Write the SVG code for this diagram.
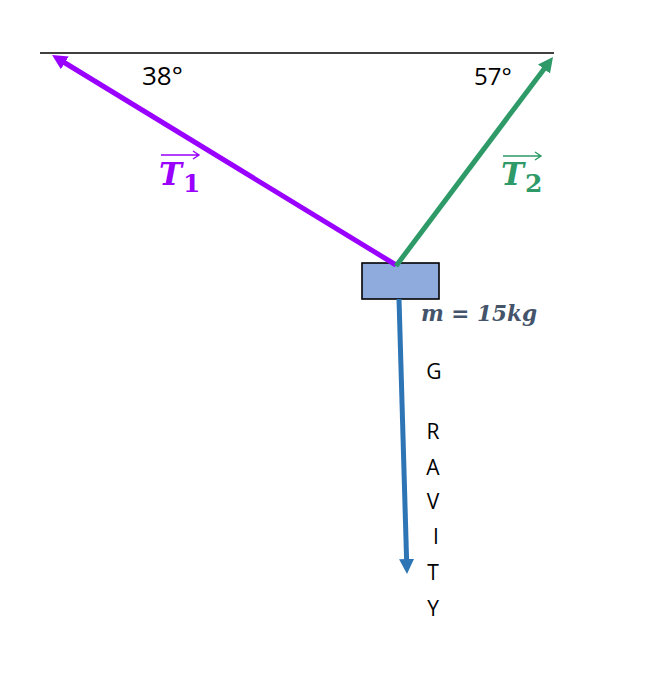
<svg xmlns="http://www.w3.org/2000/svg" width="660" height="684" viewBox="0 0 660 684">
<style>
.lbl{font-family:"Open Sans","Liberation Sans",sans-serif;fill:#000}
.vec{font-family:"DejaVu Serif","Liberation Serif",serif;font-weight:bold;font-style:italic}
.sub{font-family:"DejaVu Serif","Liberation Serif",serif;font-weight:bold;font-style:normal}
.arw{stroke-width:5;fill:none}
</style>
<defs>
<marker id="hP" viewBox="0 0 10 10" refX="3" refY="5" markerWidth="3" markerHeight="3" orient="auto"><path d="M0,0 L10,5 L0,10 z" fill="#9900ff"/></marker>
<marker id="hG" viewBox="0 0 10 10" refX="3" refY="5" markerWidth="3" markerHeight="3" orient="auto"><path d="M0,0 L10,5 L0,10 z" fill="#2e9a68"/></marker>
<marker id="hB" viewBox="0 0 10 10" refX="3" refY="5" markerWidth="3" markerHeight="3" orient="auto"><path d="M0,0 L10,5 L0,10 z" fill="#2e75b6"/></marker>
</defs>
<g id="ceiling"><line x1="40" y1="53" x2="554" y2="53" stroke="#000" stroke-width="1.6"/></g>
<g id="mass"><rect x="362" y="263" width="77" height="36" fill="#8faadc" stroke="#000" stroke-width="1.6"/></g>
<g id="connectors">
<line class="arw" x1="396" y1="265" x2="61" y2="60.5" stroke="#9900ff" marker-end="url(#hP)"/>
<line class="arw" x1="396" y1="266" x2="546.7" y2="65.4" stroke="#2e9a68" marker-end="url(#hG)"/>
<line class="arw" x1="399" y1="299" x2="406.7" y2="563.5" stroke="#2e75b6" marker-end="url(#hB)"/>
</g>
<g id="angle38"><text class="lbl" x="142" y="85" font-size="26">38°</text></g>
<g id="angle57"><text class="lbl" x="474" y="85" font-size="24">57°</text></g>
<g id="labelT1" fill="#9900ff">
<path d="M161,155 H199 M193,151 L199,155 L193,159" fill="none" stroke="#9900ff" stroke-width="1.4"/>
<text class="vec" x="159" y="185" font-size="31" textLength="23" lengthAdjust="spacingAndGlyphs">T</text>
<text class="sub" x="183" y="192" font-size="25">1</text>
</g>
<g id="labelT2" fill="#2e9a68">
<path d="M503,156 H541 M535,152 L541,156 L535,160" fill="none" stroke="#2e9a68" stroke-width="1.4"/>
<text class="vec" x="501" y="185" font-size="31" textLength="23" lengthAdjust="spacingAndGlyphs">T</text>
<text class="sub" x="525" y="192" font-size="25">2</text>
</g>
<g id="massLabel"><text class="vec" x="421" y="321" font-size="23" fill="#44546a" textLength="116" lengthAdjust="spacingAndGlyphs">m = 15kg</text></g>
<g id="gravity" font-size="21" text-anchor="middle">
<text class="lbl" x="434" y="379">G</text>
<text class="lbl" x="433" y="439">R</text>
<text class="lbl" x="433" y="475">A</text>
<text class="lbl" x="433" y="509">V</text>
<text class="lbl" x="436" y="544">I</text>
<text class="lbl" x="433" y="580">T</text>
<text class="lbl" x="433" y="616">Y</text>
</g>
</svg>
